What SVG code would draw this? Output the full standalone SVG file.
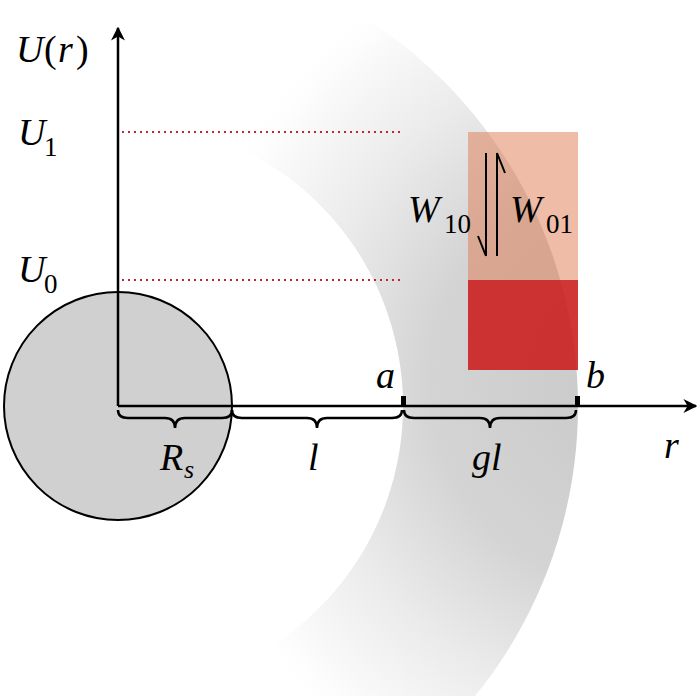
<svg xmlns="http://www.w3.org/2000/svg" width="700" height="696" viewBox="0 0 700 696">
<defs>
<radialGradient id="fade" gradientUnits="userSpaceOnUse" cx="640" cy="380" r="470">
<stop offset="0" stop-color="#c8c8c8"/>
<stop offset="0.45" stop-color="#d4d4d4"/>
<stop offset="0.7" stop-color="#ebebeb"/>
<stop offset="0.9" stop-color="#fafafa"/>
<stop offset="1" stop-color="#ffffff" stop-opacity="0"/>
</radialGradient>
<marker id="ah" viewBox="0 0 10 10" refX="9" refY="5" markerWidth="14" markerHeight="14" orient="auto" markerUnits="userSpaceOnUse"><path d="M0,0 L10,5 L0,10 L3,5 z" fill="#000"/></marker>
</defs>
<style>
.t{font-family:"Liberation Serif",serif;font-style:italic;font-size:38px;fill:#000}
.s{font-family:"Liberation Serif",serif;font-size:27px;fill:#000}
.br{fill:none;stroke:#000;stroke-width:2.5}
.dot{stroke:#c0282a;stroke-width:2;stroke-dasharray:2,4}
</style>
<g id="ring"><path d="M578,406 A460,460 0 1 0 578,406.1 Z M403,406 A285,285 0 1 1 403,405.9 Z" fill="url(#fade)" fill-rule="evenodd"/></g>
<g id="boxes">
<rect x="468" y="132" width="110" height="148" fill="#e07a50" fill-opacity="0.5"/>
<rect x="468" y="280" width="110" height="90" fill="#cc2020" fill-opacity="0.9"/>
</g>
<g id="sphere"><circle cx="118" cy="406" r="114" fill="#d0d0d0" stroke="#000" stroke-width="2"/></g>
<g id="connectors">
<line x1="118" y1="406" x2="118" y2="28" stroke="#000" stroke-width="2.5" marker-end="url(#ah)"/>
<line x1="118" y1="406" x2="696" y2="406" stroke="#000" stroke-width="2.5" marker-end="url(#ah)"/>
<line class="dot" x1="122" y1="132" x2="402" y2="132"/>
<line class="dot" x1="122" y1="280" x2="402" y2="280"/>
<rect x="401" y="396" width="5" height="10"/>
<rect x="575" y="396" width="5" height="10"/>
<path class="br" d="M118,410 q0,8 10,8 h37 q10,0 10,10 q0,-10 10,-10 h37 q10,0 10,-8"/>
<path class="br" d="M232,410 q0,8 10,8 h65 q10,0 10,10 q0,-10 10,-10 h65 q10,0 10,-8"/>
<path class="br" d="M404,410 q0,8 10,8 h66 q10,0 10,10 q0,-10 10,-10 h66 q10,0 10,-8"/>
<path d="M486,153 V256 M486,256 L478,236" fill="none" stroke="#000" stroke-width="2"/>
<path d="M497,256 V153 M497,153 L505,173" fill="none" stroke="#000" stroke-width="2"/>
</g>
<g id="labels">
<text class="t" x="16" y="62">U</text><text class="t" x="44" y="62" style="font-style:normal">(</text><text class="t" x="58" y="62">r</text><text class="t" x="76" y="62" style="font-style:normal">)</text>
<text class="t" x="18" y="145">U</text><text class="s" x="44" y="156">1</text>
<text class="t" x="18" y="282">U</text><text class="s" x="44" y="293">0</text>
<text class="t" x="408" y="222">W</text><text class="s" x="444" y="233">10</text>
<text class="t" x="510" y="222">W</text><text class="s" x="546" y="233">01</text>
<text class="t" x="376" y="388">a</text>
<text class="t" x="586" y="388">b</text>
<text class="t" x="664" y="458">r</text>
<text class="t" x="160" y="470">R</text><text class="t" x="184" y="478" style="font-size:26px">s</text>
<text class="t" x="308" y="470">l</text>
<text class="t" x="472" y="470">gl</text>
</g>
</svg>
